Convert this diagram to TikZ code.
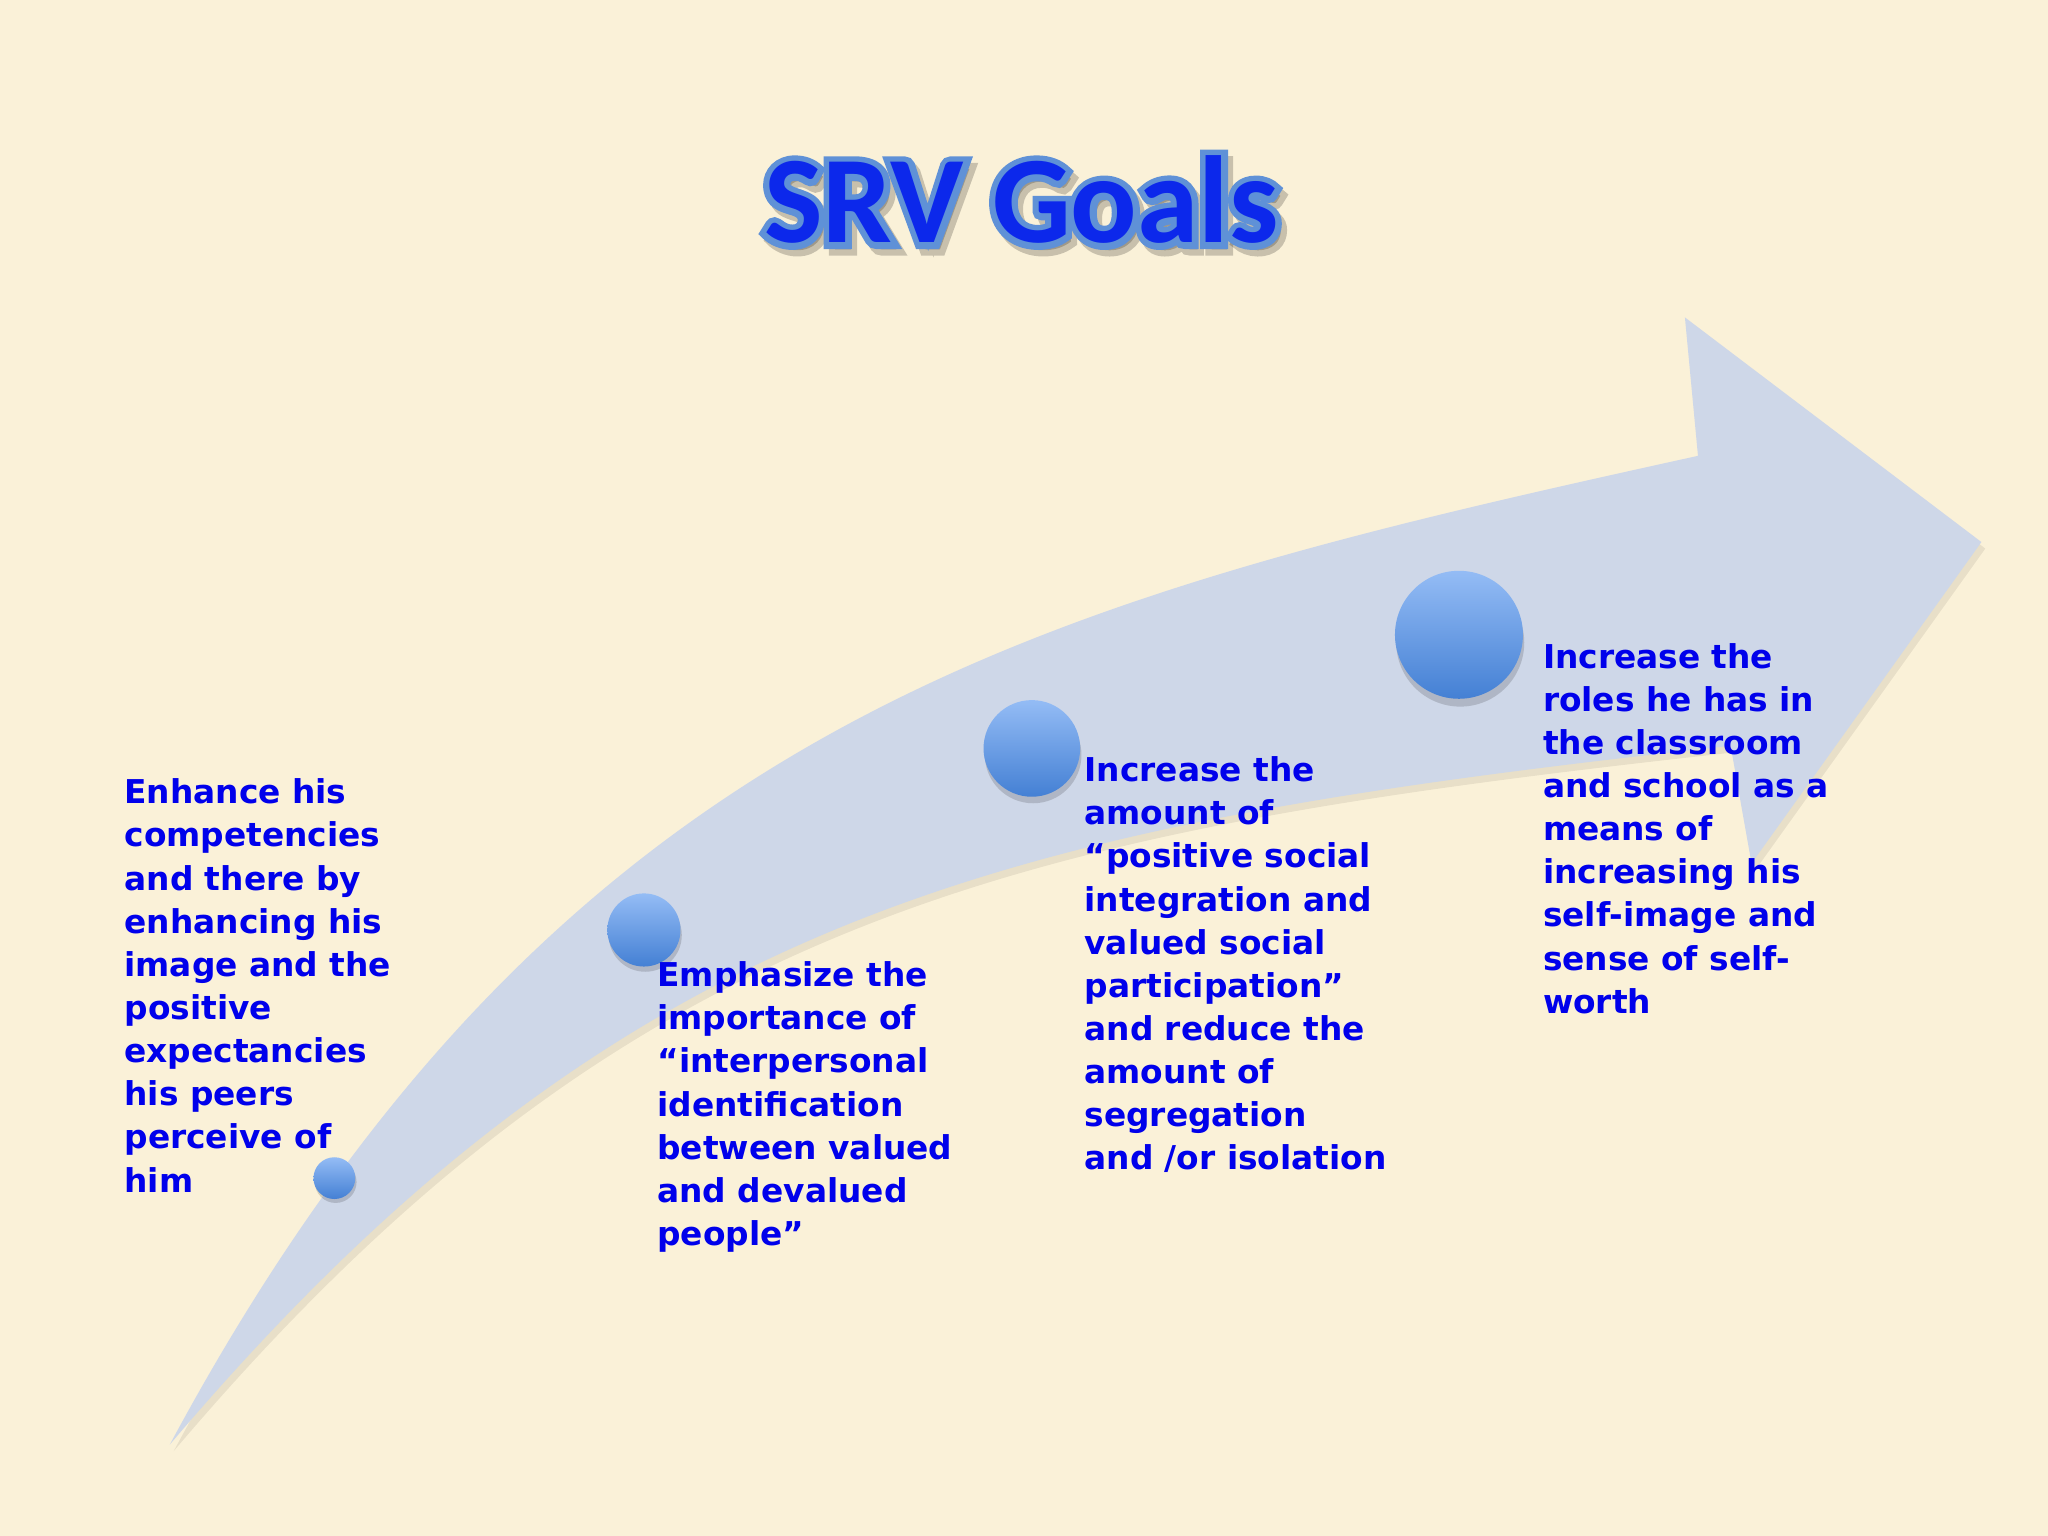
\documentclass[tikz,border=0pt]{standalone}
\usepackage{fontspec}
\setmainfont{DejaVu Sans}
\newfontfamily\titlefont{Carlito}
\newfontfamily\titleglowfont{Carlito}[BoldFeatures={FakeBold=10}]
\definecolor{bg}{RGB}{250,241,216}
\definecolor{arrowfill}{RGB}{206,215,232}
\definecolor{txtblue}{RGB}{0,0,235}
\definecolor{dottop}{RGB}{148,188,245}
\definecolor{dotbot}{RGB}{68,128,212}
\definecolor{titleblue}{RGB}{12,40,235}
\definecolor{titleedge}{RGB}{95,145,215}
\begin{document}
\begin{tikzpicture}[x=0.02cm,y=-0.02cm,
  goal/.style={anchor=north west, inner sep=0pt, align=left, text=txtblue,
    font=\fontsize{14.3}{18.8}\selectfont\bfseries},
  dot/.style={circle, inner sep=0pt, draw=none, top color=dottop, bottom color=dotbot},
  dotshadow/.style={circle, inner sep=0pt, fill=black, opacity=0.15},
  titletext/.style={inner sep=0pt, font=\titlefont\bfseries\fontsize{54}{60}\selectfont},
  titleglow/.style={inner sep=0pt, font=\titleglowfont\bfseries\fontsize{54}{60}\selectfont}]
\fill[bg] (0,0) rectangle (1568,1176);
\useasboundingbox (0,0) rectangle (1568,1176);
% arrow shadow
\fill[black, opacity=0.07, shift={(3,5)}]
  (130,1106) .. controls (430,548) and (800,459) .. (1300,349) -- (1290,243) -- (1517,415)
  -- (1341,661) -- (1325,571) .. controls (775,631.5) and (480,693) .. (130,1106) -- cycle;
% arrow
\fill[arrowfill]
  (130,1106) .. controls (430,548) and (800,459) .. (1300,349) -- (1290,243) -- (1517,415)
  -- (1341,661) -- (1325,571) .. controls (775,631.5) and (480,693) .. (130,1106) -- cycle;
% dots
\node[dotshadow, minimum size=0.64cm] (s1) at (257,905) {};
\node[dot, minimum size=0.64cm] (d1) at (256,902) {};
\node[dotshadow, minimum size=1.12cm] (s2) at (494,716) {};
\node[dot, minimum size=1.12cm] (d2) at (493,712) {};
\node[dotshadow, minimum size=1.48cm] (s3) at (791,578) {};
\node[dot, minimum size=1.48cm] (d3) at (790,573) {};
\node[dotshadow, minimum size=1.96cm] (s4) at (1118,492) {};
\node[dot, minimum size=1.96cm] (d4) at (1117,486) {};
% title
\node[titleglow, text=black, opacity=0.2] (tshadow) at (786,158) {SRV Goals};
\node[titleglow, text=titleedge] (tglow) at (782,153) {SRV Goals};
\node[titletext, text=titleblue] (title) at (782,153) {SRV Goals};
% texts
\node[goal] (g1) at (95,596) {Enhance his\\competencies\\and there by\\enhancing his\\image and the\\positive\\expectancies\\his peers\\perceive of\\him};
\node[goal] (g2) at (503,736) {Emphasize the\\importance of\\“interpersonal\\identification\\between valued\\and devalued\\people”};
\node[goal] (g3) at (830,579) {Increase the\\amount of\\“positive social\\integration and\\valued social\\participation”\\and reduce the\\amount of\\segregation\\and /or isolation};
\node[goal] (g4) at (1181,492) {Increase the\\roles he has in\\the classroom\\and school as a\\means of\\increasing his\\self-image and\\sense of self-\\worth};
\end{tikzpicture}
\end{document}
